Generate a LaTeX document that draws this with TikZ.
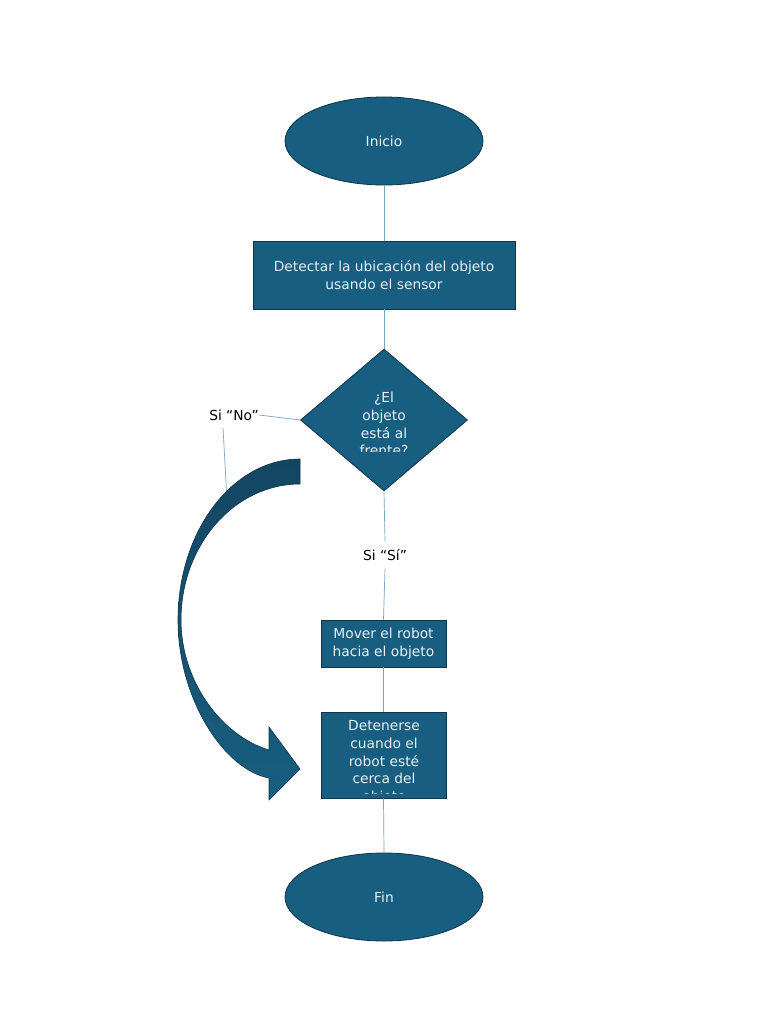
\documentclass[tikz,border=0pt]{standalone}
\usepackage{fontspec}
\setmainfont{DejaVu Sans}
\usetikzlibrary{shapes.geometric}
\definecolor{boxfill}{RGB}{23,94,128}
\definecolor{boxedge}{RGB}{14,52,72}
\definecolor{conn}{RGB}{120,165,192}
\definecolor{txt}{RGB}{232,240,245}
\definecolor{arrdark}{RGB}{19,70,97}
\begin{document}
\begin{tikzpicture}[x=1pt,y=-1pt,
  shapebase/.style={draw=boxedge, fill=boxfill, line width=0.8pt, inner sep=0pt,
    text=txt, font=\fontsize{13.8}{17.6}\selectfont, align=center},
  oval/.style={shapebase, ellipse, minimum width=198pt, minimum height=88pt},
  boxnode/.style={shapebase, rectangle},
  decision/.style={shapebase, diamond, minimum width=167pt, minimum height=142pt},
  intext/.style={text=txt, font=\fontsize{13.8}{17.8}\selectfont, align=center, inner sep=0pt},
  lbl/.style={text=black, font=\fontsize{13.8}{16}\selectfont, inner sep=0pt, minimum height=27pt},
  conn/.style={draw=conn, line width=0.7pt},
  bigarrow/.style={draw=boxedge, line width=0.6pt, top color=arrdark, bottom color=boxfill}
]
\useasboundingbox (0,0) rectangle (768,1024);
\fill[white] (0,0) rectangle (768,1024);

% shapes
\node[oval] (inicio) at (384,141) {Inicio};
\node[boxnode, minimum width=262pt, minimum height=68pt] (detect) at (384,275)
  {Detectar la ubicación del objeto\\usando el sensor};
\node[decision] (q) at (384,420) {};
\node[boxnode, minimum width=125pt, minimum height=47pt] (mover) at (383.5,643.5)
  {Mover el robot\\hacia el objeto};
\node[boxnode, minimum width=125pt, minimum height=86pt] (deten) at (383.5,755) {};
\node[oval] (fin) at (384,897) {Fin};

% clipped texts
\begin{scope}
  \clip (300,386) rectangle (467,451);
  \node[intext] (qtext) at (384,424) {¿El\\objeto\\está al\\frente?};
\end{scope}
\begin{scope}
  \clip (322,713) rectangle (445,793);
  \node[intext] (detentext) at (384,762.5) {Detenerse\\cuando el\\robot esté\\cerca del\\objeto};
\end{scope}

% labels
\node[lbl, anchor=east] (sino) at (259,415) {Si “No”};
\node[lbl] (sisi) at (385,555) {Si “Sí”};
\coordinate (notail) at (223,428);
\coordinate (nohidden) at (227,500);

% connectors
\draw[conn] (inicio.south) -- (detect.north);
\draw[conn] (detect.south) -- (q.north);
\draw[conn] (q.south) -- (sisi.north);
\draw[conn] (sisi.south) -- (mover.north);
\draw[conn] (mover.south) -- (deten.north);
\draw[conn] (deten.south) -- (fin.north);
\draw[conn] (q.west) -- (sino.east);
\draw[conn] (notail) -- (nohidden);

% curved block arrow
\path[bigarrow] (300,459) .. controls (232.6,459) and (178,531) .. (178,620)
  .. controls (178,700) and (225,770) .. (269,778)
  -- (269,800) -- (300,769) -- (269,727) -- (269,750)
  .. controls (220,735) and (181,680) .. (181,620)
  .. controls (181,545) and (234.3,484) .. (300,484) -- cycle;
\end{tikzpicture}
\end{document}
